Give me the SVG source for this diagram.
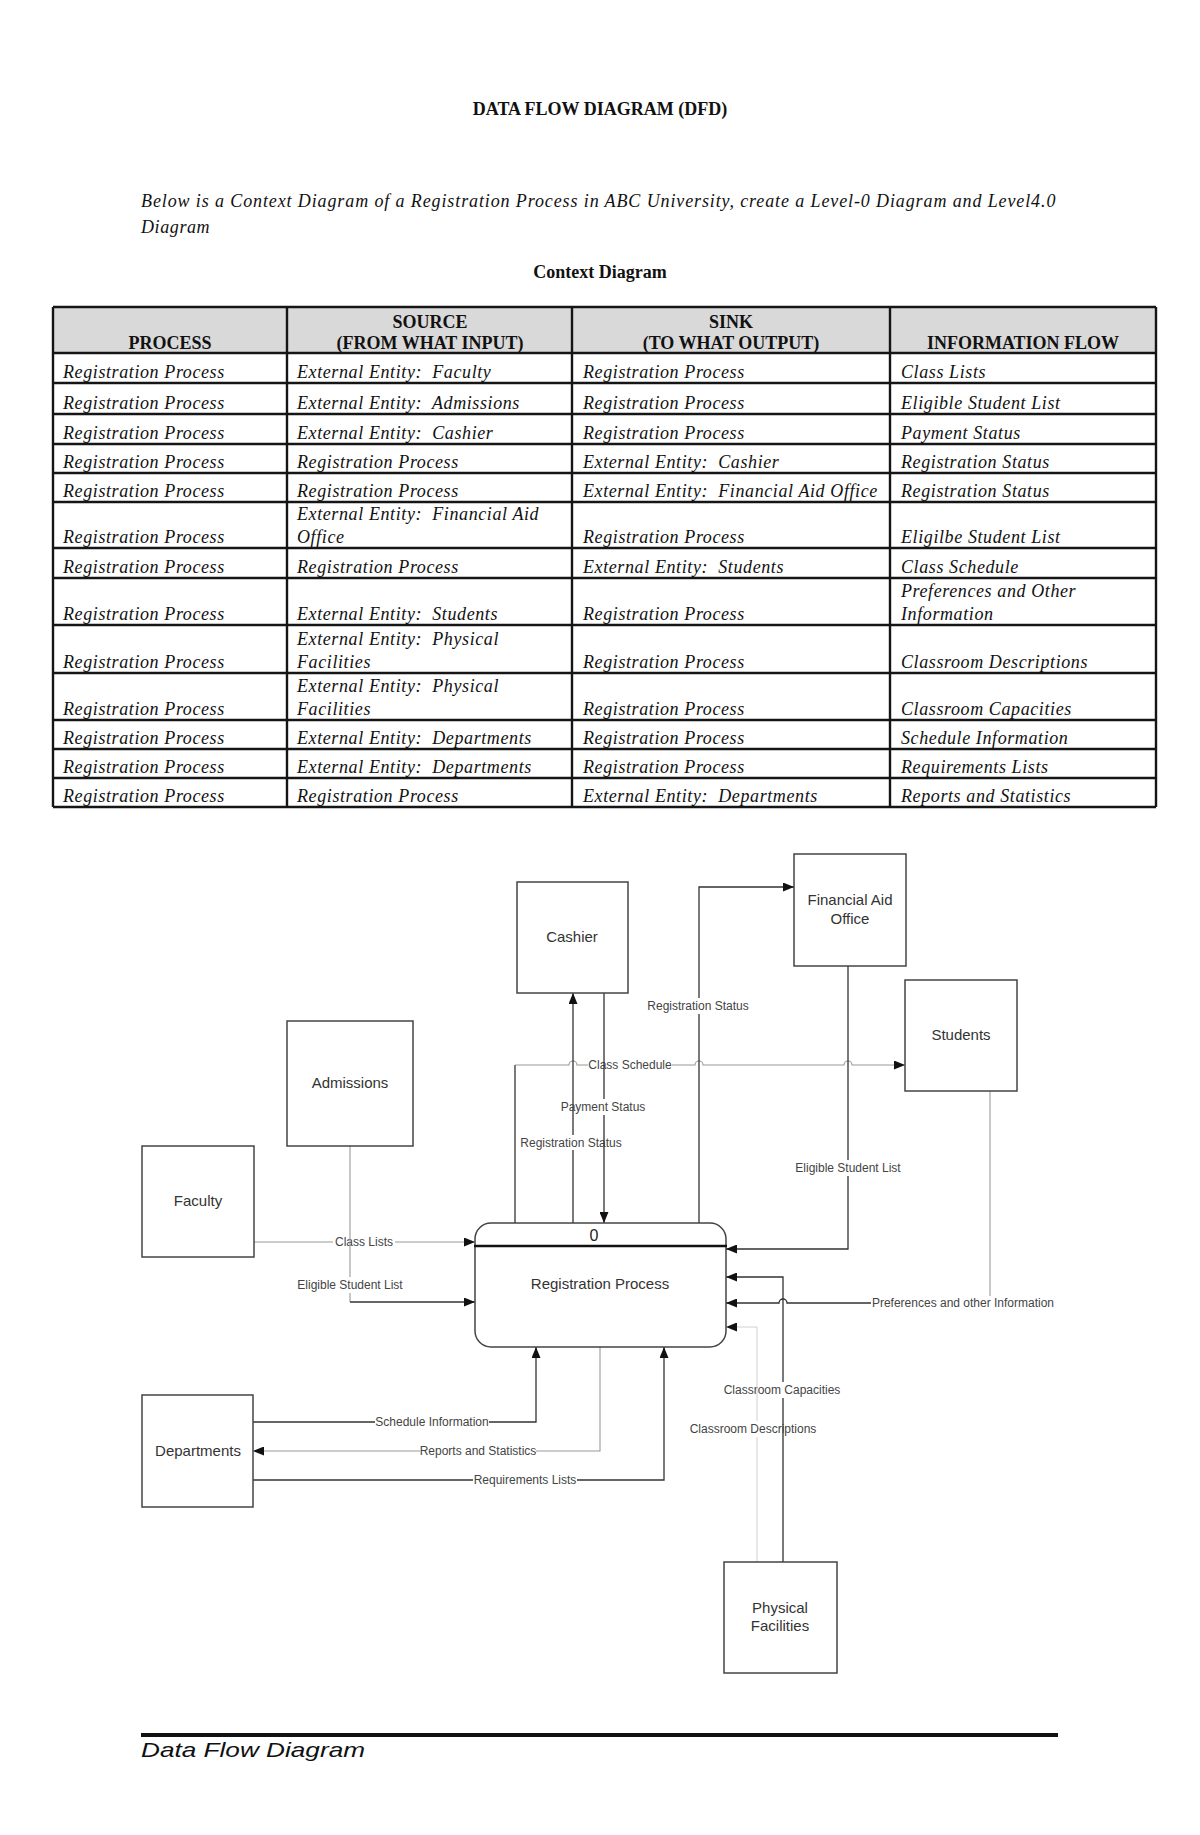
<svg xmlns="http://www.w3.org/2000/svg" width="1200" height="1835" viewBox="0 0 1200 1835">
<style>
.sf{font-family:"Liberation Serif","Times New Roman",serif;fill:#111}
.hd{font-weight:bold;font-size:18px;text-anchor:middle}
.cell{font-style:italic;font-size:18px;letter-spacing:0.6px}
.grid{stroke:#151515;stroke-width:2.4;fill:none}
.nl{font-family:"Liberation Sans",Arial,sans-serif;font-size:15px;fill:#333;text-anchor:middle}
.cl{font-family:"Liberation Sans",Arial,sans-serif;font-size:12px;fill:#444;text-anchor:middle}
.box{fill:#fff;stroke:#444;stroke-width:1.5}
.ln{fill:none;stroke:#333;stroke-width:1.3}
.lg{fill:none;stroke:#9a9a9a;stroke-width:1.1}
.lx{fill:none;stroke:#d0d0d0;stroke-width:1}
</style>
<defs>
<marker id="ah" markerUnits="userSpaceOnUse" markerWidth="11" markerHeight="9" refX="11" refY="4.5" orient="auto">
<path d="M0,0 L11,4.5 L0,9 z" fill="#111"/>
</marker>
</defs>
<rect width="1200" height="1835" fill="#fff"/>

<g id="header-text" class="sf">
<text class="hd" x="600" y="115">DATA FLOW DIAGRAM (DFD)</text>
<text class="cell" x="141" y="207" textLength="915" lengthAdjust="spacing">Below is a Context Diagram of a Registration Process in ABC University, create a Level-0 Diagram and Level4.0</text>
<text class="cell" x="141" y="233">Diagram</text>
<text class="hd" x="600" y="278">Context Diagram</text>
</g>

<g id="table" class="sf">
<rect x="53" y="307" width="1103" height="46" fill="#d9d9d9"/>
<path class="grid" d="M53,307H1156M53,353H1156M53,383H1156M53,414H1156M53,444H1156M53,473H1156M53,502H1156M53,548H1156M53,578H1156M53,625H1156M53,673H1156M53,720H1156M53,749H1156M53,778H1156M53,807H1156M53,307V807M287,307V807M572,307V807M890,307V807M1156,307V807"/>
<text class="hd" x="170" y="349">PROCESS</text>
<text class="hd" x="430" y="328">SOURCE</text>
<text class="hd" x="430" y="349">(FROM WHAT INPUT)</text>
<text class="hd" x="731" y="328">SINK</text>
<text class="hd" x="731" y="349">(TO WHAT OUTPUT)</text>
<text class="hd" x="1023" y="349">INFORMATION FLOW</text>
<g class="cell">
<text x="63" y="378">Registration Process</text><text x="297" y="378">External Entity:&#160; Faculty</text><text x="583" y="378">Registration Process</text><text x="901" y="378">Class Lists</text>
<text x="63" y="409">Registration Process</text><text x="297" y="409">External Entity:&#160; Admissions</text><text x="583" y="409">Registration Process</text><text x="901" y="409">Eligible Student List</text>
<text x="63" y="439">Registration Process</text><text x="297" y="439">External Entity:&#160; Cashier</text><text x="583" y="439">Registration Process</text><text x="901" y="439">Payment Status</text>
<text x="63" y="468">Registration Process</text><text x="297" y="468">Registration Process</text><text x="583" y="468">External Entity:&#160; Cashier</text><text x="901" y="468">Registration Status</text>
<text x="63" y="497">Registration Process</text><text x="297" y="497">Registration Process</text><text x="583" y="497">External Entity:&#160; Financial Aid Office</text><text x="901" y="497">Registration Status</text>
<text x="63" y="543">Registration Process</text><text x="297" y="520">External Entity:&#160; Financial Aid</text><text x="297" y="543">Office</text><text x="583" y="543">Registration Process</text><text x="901" y="543">Eligilbe Student List</text>
<text x="63" y="573">Registration Process</text><text x="297" y="573">Registration Process</text><text x="583" y="573">External Entity:&#160; Students</text><text x="901" y="573">Class Schedule</text>
<text x="63" y="620">Registration Process</text><text x="297" y="620">External Entity:&#160; Students</text><text x="583" y="620">Registration Process</text><text x="901" y="597">Preferences and Other</text><text x="901" y="620">Information</text>
<text x="63" y="668">Registration Process</text><text x="297" y="645">External Entity:&#160; Physical</text><text x="297" y="668">Facilities</text><text x="583" y="668">Registration Process</text><text x="901" y="668">Classroom Descriptions</text>
<text x="63" y="715">Registration Process</text><text x="297" y="692">External Entity:&#160; Physical</text><text x="297" y="715">Facilities</text><text x="583" y="715">Registration Process</text><text x="901" y="715">Classroom Capacities</text>
<text x="63" y="744">Registration Process</text><text x="297" y="744">External Entity:&#160; Departments</text><text x="583" y="744">Registration Process</text><text x="901" y="744">Schedule Information</text>
<text x="63" y="773">Registration Process</text><text x="297" y="773">External Entity:&#160; Departments</text><text x="583" y="773">Registration Process</text><text x="901" y="773">Requirements Lists</text>
<text x="63" y="802">Registration Process</text><text x="297" y="802">Registration Process</text><text x="583" y="802">External Entity:&#160; Departments</text><text x="901" y="802">Reports and Statistics</text>
</g>
</g>

<g id="connectors">
<g id="c-classlists"><path class="lg" d="M254,1242H333M395,1242H475" marker-end="url(#ah)"/><text class="cl" x="364" y="1246">Class Lists</text></g>
<g id="c-elig-adm"><path class="lg" d="M350,1146V1277M350,1293V1302"/><path class="ln" d="M350,1302H475" marker-end="url(#ah)"/><text class="cl" x="350" y="1289">Eligible Student List</text></g>
<g id="c-classsched"><path class="ln" d="M515,1223V1065"/><path class="lg" d="M515,1065H569a4,4 0 0 1 8,0H588M672,1065H695a4,4 0 0 1 8,0H844a4,4 0 0 1 8,0H905" marker-end="url(#ah)"/><text class="cl" x="630" y="1069">Class Schedule</text></g>
<g id="c-regstat-cash"><path class="ln" d="M573,1223V1150M573,1135V993" marker-end="url(#ah)"/><text class="cl" x="571" y="1147">Registration Status</text></g>
<g id="c-payment"><path class="ln" d="M604,993V1099M604,1115V1223" marker-end="url(#ah)"/><text class="cl" x="603" y="1111">Payment Status</text></g>
<g id="c-regstat-fao"><path class="ln" d="M699,1223V1014M699,998V887H794" marker-end="url(#ah)"/><text class="cl" x="698" y="1010">Registration Status</text></g>
<g id="c-elig-fao"><path class="ln" d="M848,966V1160M848,1176V1249H726" marker-end="url(#ah)"/><text class="cl" x="848" y="1172">Eligible Student List</text></g>
<g id="c-prefs"><path class="lg" d="M990,1091V1296"/><path class="ln" d="M871,1303H787a4,4 0 0 0 -8,0H726" marker-end="url(#ah)"/><text class="cl" x="963" y="1307">Preferences and other Information</text></g>
<g id="c-capac"><path class="ln" d="M783,1562V1398M783,1382V1277H726" marker-end="url(#ah)"/><text class="cl" x="782" y="1394">Classroom Capacities</text></g>
<g id="c-descr"><path class="lx" d="M757,1562V1437M757,1421V1327H726" marker-end="url(#ah)"/><text class="cl" x="753" y="1433">Classroom Descriptions</text></g>
<g id="c-sched"><path class="ln" d="M253,1422H375M489,1422H536V1347" marker-end="url(#ah)"/><text class="cl" x="432" y="1426">Schedule Information</text></g>
<g id="c-reports"><path class="lg" d="M600,1347V1451H536M420,1451H253" marker-end="url(#ah)"/><text class="cl" x="478" y="1455">Reports and Statistics</text></g>
<g id="c-reqs"><path class="ln" d="M253,1480H473M577,1480H664V1347" marker-end="url(#ah)"/><text class="cl" x="525" y="1484">Requirements Lists</text></g>
</g>

<g id="n-process"><rect class="box" x="475" y="1223" width="251" height="124" rx="16" fill="none"/><path d="M474,1246H727" stroke="#111" stroke-width="2.6"/><text class="nl" x="594" y="1241" style="font-size:16px;fill:#222">0</text><text class="nl" x="600" y="1289">Registration Process</text></g>
<g id="n-faculty"><rect class="box" x="142" y="1146" width="112" height="111"/><text class="nl" x="198" y="1206">Faculty</text></g>
<g id="n-admissions"><rect class="box" x="287" y="1021" width="126" height="125"/><text class="nl" x="350" y="1088">Admissions</text></g>
<g id="n-cashier"><rect class="box" x="517" y="882" width="111" height="111"/><text class="nl" x="572" y="942">Cashier</text></g>
<g id="n-fao"><rect class="box" x="794" y="854" width="112" height="112"/><text class="nl" x="850" y="905">Financial Aid</text><text class="nl" x="850" y="924">Office</text></g>
<g id="n-students"><rect class="box" x="905" y="980" width="112" height="111"/><text class="nl" x="961" y="1040">Students</text></g>
<g id="n-departments"><rect class="box" x="142" y="1395" width="111" height="112"/><text class="nl" x="198" y="1456">Departments</text></g>
<g id="n-physical"><rect class="box" x="724" y="1562" width="113" height="111"/><text class="nl" x="780" y="1613">Physical</text><text class="nl" x="780" y="1631">Facilities</text></g>

<g id="footer">
<path d="M141,1735H1058" stroke="#111" stroke-width="4"/>
<text x="141" y="1757" textLength="224" lengthAdjust="spacingAndGlyphs" style="font-family:'Liberation Sans',Arial,sans-serif;font-style:italic;font-size:21px;fill:#111">Data Flow Diagram</text>
</g>
</svg>
